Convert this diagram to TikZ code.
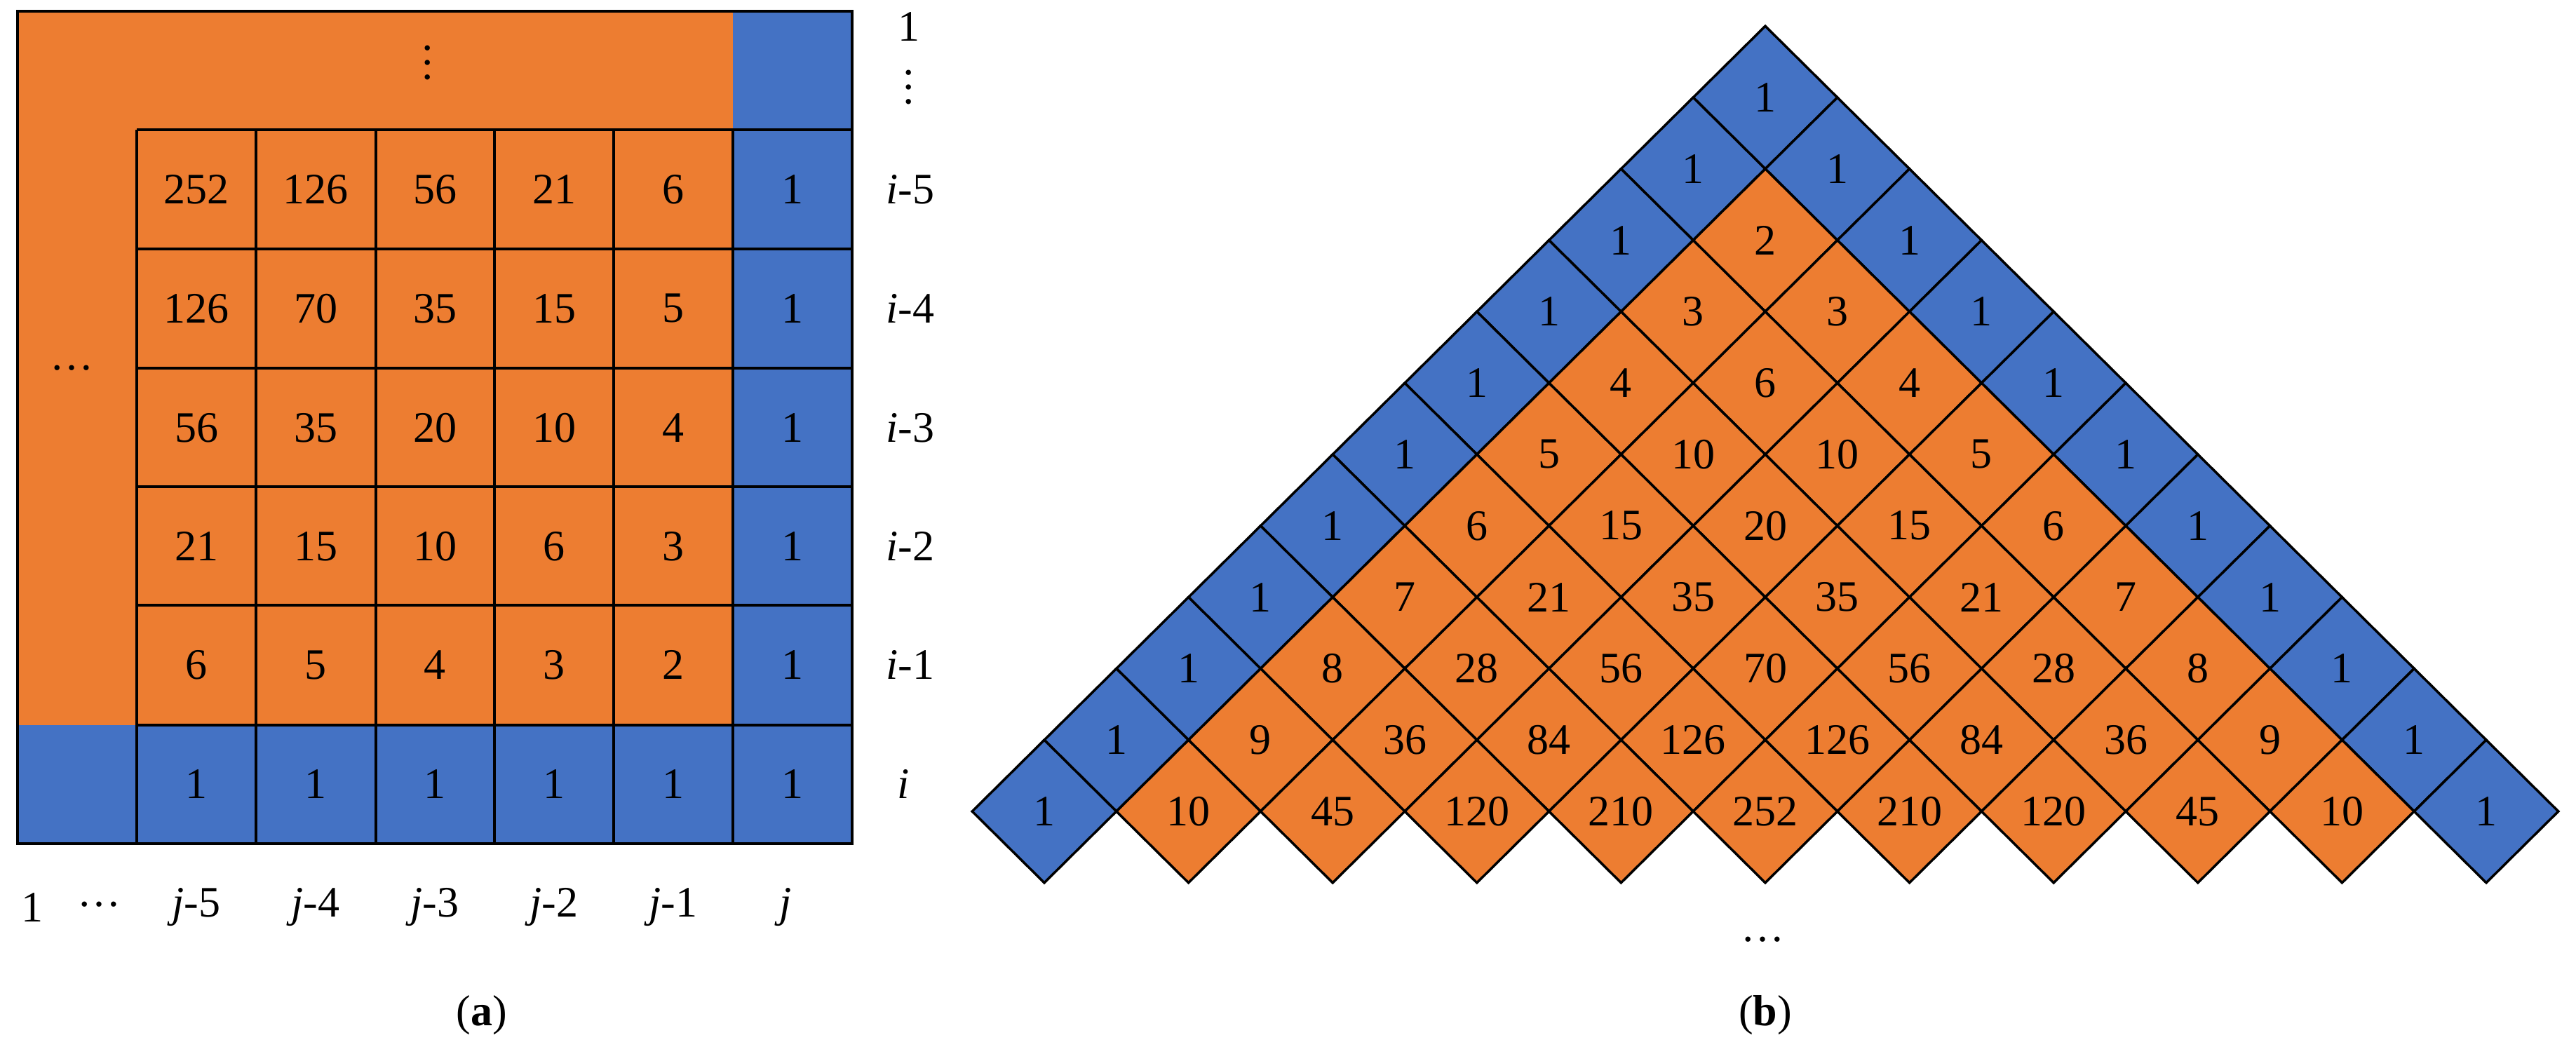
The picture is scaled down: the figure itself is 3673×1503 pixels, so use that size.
\documentclass[tikz,border=0pt]{standalone}
\usepackage{fontspec}
\setmainfont{Liberation Serif}
\definecolor{org}{HTML}{ED7D31}
\definecolor{blu}{HTML}{4472C4}
\begin{document}
\begin{tikzpicture}[x=1pt,y=-1pt,
  txt/.style={font=\fontsize{62}{70}\selectfont,inner sep=0pt},
  ln/.style={line width=3.5pt,black},
  dia/.style={line width=3.5pt,draw=black}]
\useasboundingbox (0,0) rectangle (3673,1503);
% ---------- (a) grid
\fill[org] (25,16) rectangle (1215,1203);
\fill[blu] (1045,16) rectangle (1215,1203);
\fill[blu] (25,1034) rectangle (1215,1203);
\foreach \x in {195,365,536,705,875,1045} \draw[ln] (\x,185) -- (\x,1203);
\foreach \y in {185,355,525,694,863,1034} \draw[ln] (195,\y) -- (1215,\y);
\draw[ln] (25,16) rectangle (1215,1203);
\def\cx{{280,450,620,790,960,1130}}
\def\ry{{270,440,610,779,948,1118}}
\foreach \vals [count=\r from 0] in {{252,126,56,21,6,1},{126,70,35,15,5,1},{56,35,20,10,4,1},{21,15,10,6,3,1},{6,5,4,3,2,1},{1,1,1,1,1,1}}{
  \foreach \v [count=\c from 0] in \vals {
    \pgfmathsetmacro\xx{\cx[\c]}\pgfmathsetmacro\yy{\ry[\r]}
    \node[txt] (g-\r-\c) at (\xx,\yy) {\v};
  }
}
\node[txt] (topdots) at (610,90) {\rotatebox{90}{…}};
\node[txt] (leftdots) at (102,525) {…};
% right labels
\node[txt] (rl0) at (1296,38) {1};
\node[txt] (rl1) at (1296,125) {\rotatebox{90}{…}};
\foreach \t [count=\r from 0] in {5,4,3,2,1}{
  \pgfmathsetmacro\yy{\ry[\r]}
  \node[txt] (rli\r) at (1298,\yy) {\textit{i}-\t};
}
\node[txt] (rli5) at (1288,1118) {\textit{i}};
% bottom labels
\node[txt] (bl1) at (46,1294) {1};
\node[txt] (bl2) at (141,1290) {…};
\foreach \t [count=\c from 0] in {5,4,3,2,1}{
  \pgfmathsetmacro\xx{\cx[\c]}
  \node[txt] (blj\c) at (\xx,1294) {\textit{j}-\t};
}
\node[txt] (blj5) at (1120,1294) {\textit{j}};
\node[txt] (capa) at (687,1448) {(\textbf{a})};
% ---------- (b) triangle
\def\hw{102.8}\def\hh{101.8}
\foreach \vals [count=\r from 0] in {{1},{1,1},{1,2,1},{1,3,3,1},{1,4,6,4,1},{1,5,10,10,5,1},{1,6,15,20,15,6,1},{1,7,21,35,35,21,7,1},{1,8,28,56,70,56,28,8,1},{1,9,36,84,126,126,84,36,9,1},{1,10,45,120,210,252,210,120,45,10,1}}{
  \foreach \v [count=\k from 0] in \vals {
    \pgfmathsetmacro\xx{2517+(\k-\r/2)*2*\hw}
    \pgfmathsetmacro\yy{139+\r*\hh}
    \pgfmathtruncatemacro\isone{(\k==0)||(\k==\r)}
    \ifnum\isone=1 \def\fc{blu}\else\def\fc{org}\fi
    \draw[dia,fill=\fc] (\xx-\hw,\yy) -- (\xx,\yy-\hh) -- (\xx+\hw,\yy) -- (\xx,\yy+\hh) -- cycle;
    \node[txt] (p-\r-\k) at (\xx,\yy) {\v};
  }
}
\node[txt] (bdots) at (2513,1340) {…};
\node[txt] (capb) at (2517,1448) {(\textbf{b})};
\end{tikzpicture}
\end{document}
